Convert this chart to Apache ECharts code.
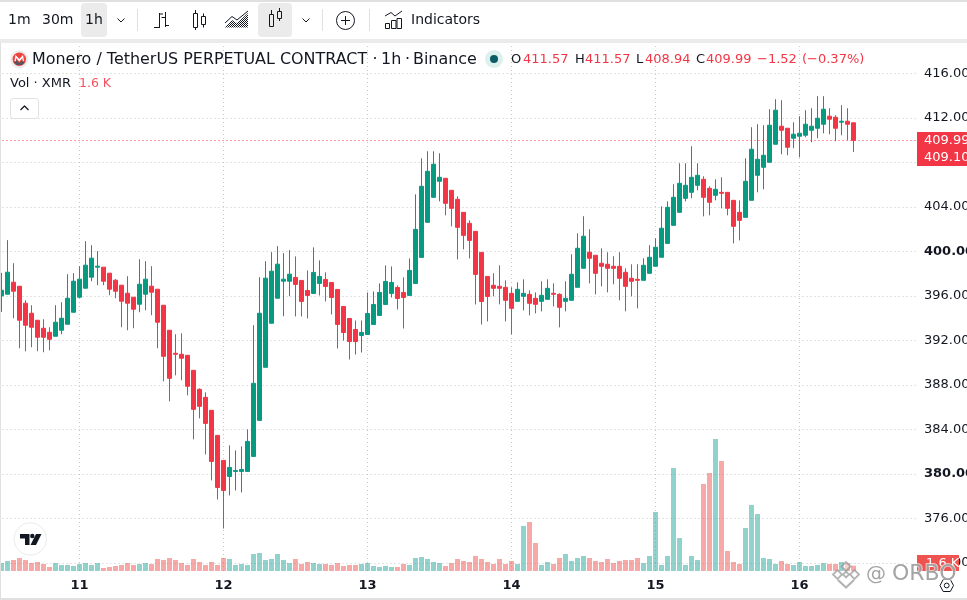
<!DOCTYPE html>
<html>
<head>
<meta charset="utf-8">
<style>html,body{margin:0;padding:0;background:#fff;overflow:hidden}#c{width:967px;height:600px}</style>
<script src="https://cdn.jsdelivr.net/npm/echarts@6/dist/echarts.min.js"></script>
</head>
<body>
<div id="c"></div>
<script>
const opens = [396.01,396.16,397.24,396.88,395.35,394.45,393.82,393.10,392.74,392.38,392.92,393.46,394.54,395.89,396.70,397.69,398.59,398.59,398.05,397.42,396.97,396.25,395.89,
395.26,396.16,396.88,396.61,395.17,392.92,390.85,390.76,390.67,389.32,387.61,386.89,385.72,383.47,381.22,379.78,380.23,380.23,380.23,381.58,384.82,389.59,393.55,395.80,397.33,397.33,
397.67,397.40,396.50,396.23,397.13,397.49,397.22,396.59,395.06,393.98,392.99,392.45,392.54,393.44,394.25,395.24,396.23,396.77,396.32,396.05,397.13,399.47,402.62,404.87,406.31,406.58,405.50,404.69,403.52,402.53,401.81,399.92,397.76,
396.96,396.87,396.78,396.24,395.52,395.97,396.15,395.79,395.52,395.70,396.24,396.15,395.52,395.61,396.78,398.49,399.93,399.66,398.94,398.85,398.67,398.67,398.13,397.59,397.50,397.41,398.04,398.67,
399.48,400.73,402.35,403.52,404.78,405.32,405.95,406.49,405.68,405.05,405.32,405.32,404.60,403.52,403.07,404.60,406.85,407.57,408.02,409.64,411.26,411.08,410.18,410.36,410.45,410.90,411.08,411.44,412.16,412.07,411.62,411.71,411.57];
const closes = [396.52,398.14,396.43,393.82,393.37,393.19,392.29,392.29,392.11,393.64,394.00,395.80,397.33,397.51,398.77,399.40,398.68,397.33,396.61,396.43,395.53,395.35,394.81,
397.06,397.51,396.34,393.64,390.58,388.60,390.76,390.40,387.88,385.81,386.08,384.55,381.13,378.79,378.52,380.59,380.32,380.41,382.93,388.15,394.45,397.60,398.23,398.86,397.51,397.96,
397.04,395.51,396.05,398.12,397.76,396.86,395.87,393.44,392.72,391.91,391.91,392.72,394.43,395.24,396.32,397.31,397.22,395.78,395.87,398.30,401.99,405.86,407.21,407.84,406.67,404.33,403.88,402.17,401.45,401.00,397.94,395.51,395.96,
396.69,396.69,395.61,394.89,396.60,396.24,395.34,395.25,396.06,396.69,396.15,394.98,395.79,397.95,400.29,401.37,399.39,398.04,398.67,398.49,398.49,397.59,396.87,397.32,397.41,398.76,399.48,400.38,
402.09,403.97,404.87,406.13,405.95,406.67,406.85,404.87,404.42,405.59,405.23,403.88,402.26,402.80,406.31,409.19,408.29,408.65,411.35,412.70,410.90,409.37,410.54,410.63,411.44,411.26,411.98,412.79,411.89,411.08,411.71,411.44,409.99];
const highs = [398.08,401.02,398.95,396.88,395.62,395.17,393.82,393.91,393.19,395.17,395.44,397.96,398.05,398.68,400.93,400.57,400.03,398.59,398.05,397.51,396.97,397.78,395.89,
399.31,399.13,398.68,396.61,395.17,392.92,392.56,392.65,390.67,389.32,387.70,387.34,385.72,383.47,381.22,382.57,382.12,382.48,384.01,393.37,397.69,399.13,399.94,400.48,399.85,400.12,
399.56,397.40,398.30,400.37,399.20,398.12,397.22,396.59,395.06,393.98,393.80,393.80,396.32,396.41,397.13,398.75,398.66,396.95,397.67,399.38,405.14,408.38,409.01,409.01,408.83,406.58,405.50,404.96,403.52,402.80,401.81,399.92,397.76,
398.04,398.76,397.41,396.78,397.23,397.50,396.51,396.33,397.32,397.50,397.14,396.24,397.32,399.75,401.64,403.17,402.00,399.66,400.29,399.93,399.57,399.93,398.49,398.85,398.85,399.39,400.56,401.19,
404.06,404.51,406.04,407.93,407.93,409.46,407.93,406.76,405.86,406.49,406.67,405.32,404.60,404.60,408.38,411.17,411.44,411.35,412.79,413.69,413.60,411.08,411.62,412.16,412.70,412.88,413.96,413.96,412.88,412.25,413.15,412.88,411.57];
const lows = [394.57,396.16,394.00,391.30,391.03,391.39,391.03,390.94,391.12,392.38,392.56,393.46,394.54,395.80,396.70,397.33,396.97,396.97,396.07,395.80,393.19,392.92,393.10,
394.54,394.72,394.27,391.30,388.33,386.53,388.87,388.42,387.07,383.11,385.00,381.76,379.42,377.71,375.10,378.07,378.52,378.34,380.23,381.58,384.82,389.59,393.55,395.80,394.18,395.98,
394.16,394.16,393.98,396.23,396.05,395.51,394.34,391.28,392.00,390.29,390.74,390.92,392.54,393.44,394.25,395.24,395.87,394.79,393.08,396.05,397.13,399.47,402.62,404.87,404.51,403.25,402.26,399.29,400.19,399.38,395.24,393.44,393.71,
395.97,395.25,393.72,392.55,395.52,394.71,394.26,394.44,394.62,395.70,395.07,393.18,394.62,395.61,396.78,398.49,397.14,396.15,396.87,396.33,397.05,395.61,394.62,395.97,394.89,397.41,398.04,398.67,
399.48,400.73,402.35,403.52,404.51,404.78,405.50,403.16,403.25,404.60,403.88,403.25,400.73,401.00,403.07,404.60,405.32,405.59,408.02,409.64,408.74,408.65,409.28,408.47,410.27,409.82,410.18,410.63,410.54,409.91,410.45,410.00,408.94];
// volume in thousands of XMR
const volumes = [2.4,3.0,3.3,3.9,3.3,2.4,2.7,2.1,1.2,2.4,1.8,1.8,1.5,2.1,2.4,1.8,2.4,0.9,1.2,1.5,1.8,2.4,1.8,2.1,2.4,2.1,3.6,3.3,3.9,3.3,2.4,1.8,3.6,2.7,1.8,2.7,1.8,3.9,3.6,1.8,2.1,1.8,5.1,5.4,3.3,3.6,5.1,3.3,2.4,3.6,2.1,2.7,2.4,2.1,2.1,
1.8,2.4,1.5,1.8,1.8,2.1,2.4,1.5,1.2,1.5,1.2,1.2,2.1,1.8,3.9,4.2,3.6,2.7,2.4,1.5,2.4,3.6,3.0,2.7,4.5,3.6,2.7,2.1,3.6,2.1,3.0,2.1,13.5,14.7,8.4,1.8,2.7,2.1,3.9,5.1,3.0,3.9,4.5,3.9,3.0,2.7,3.6,2.4,3.0,3.3,3.3,3.9,2.4,4.5,17.7,
1.8,4.5,30.9,9.9,1.8,4.5,3.3,26.1,29.4,39.6,33.0,6.0,2.7,2.1,12.9,19.8,17.1,3.9,3.6,2.1,3.0,2.1,1.8,2.7,1.5,1.5,1.8,2.4,2.1,2.1,2.7,2.4,1.6];
const priceTicks = {min:372, max:416, interval:4};
const boldPrices = [400, 380];
const slotCount = 153;
const categories = [];
for (let i = 0, day = 10, hour = 11; i < slotCount; i++) {
  categories.push(day + ' ' + String(hour).padStart(2,'0') + ':00');
  hour++; if (hour === 24) { hour = 0; day++; }
}
const dayStarts = categories.map((c,i)=>c.endsWith(' 00:00')?i:-1).filter(i=>i>=0);
const lastPrice = 409.99, markPrice = 409.10;

const UP='#089981', DOWN='#f23645', INK='#131722', FONT='"DejaVu Sans"';
const candleData = opens.map((o,i)=>[o,closes[i],lows[i],highs[i]]);
const volData = volumes.map((v,i)=>({value:v,itemStyle:{color:closes[i]>=opens[i]?'rgba(38,166,154,0.5)':'rgba(239,83,80,0.5)'}}));

// graphic helpers (chrome of the page, not data)
const g=[];
const Z=50;
const txt=(t,x,y,o={})=>g.push({type:'text',z:o.z||Z,x,y,silent:true,style:{text:t,fill:o.c||INK,font:(o.w||'normal')+' '+(o.s||14)+'px '+FONT,verticalAlign:'middle',align:o.a||'left',opacity:o.o==null?1:o.o,stroke:o.st||null,lineWidth:o.lw||0}});
const rect=(x,y,w,h,fill,o={})=>g.push({type:'rect',z:o.z||Z,silent:true,shape:{x,y,width:w,height:h,r:o.r||0},style:{fill,stroke:o.st||null,lineWidth:o.lw||1,opacity:o.o==null?1:o.o}});
const poly=(pts,o={})=>g.push({type:'polyline',z:o.z||Z,silent:true,shape:{points:pts},style:{stroke:o.st||INK,lineWidth:o.lw||1,fill:null,opacity:o.o==null?1:o.o,lineJoin:'round'}});
const pgon=(pts,fill,o={})=>g.push({type:'polygon',z:o.z||Z,silent:true,shape:{points:pts},style:{fill,stroke:o.st||null,lineWidth:o.lw||1,opacity:o.o==null?1:o.o}});
const circ=(cx,cy,r,fill,o={})=>g.push({type:'circle',z:o.z||Z,silent:true,shape:{cx,cy,r},style:{fill,stroke:o.st||null,lineWidth:o.lw||1,opacity:o.o==null?1:o.o}});

// page frame
rect(0,0,967,2,'#e0e0e0');
rect(0,39,967,4,'#ebebeb');
rect(0,43,1,556,'#e0e0e0');
rect(0,598,967,2,'#e0e0e0');
// toolbar
rect(81,3,26,34,'#ebebeb',{r:4});
rect(258,3,34,34,'#ebebeb',{r:4});
txt('1m',8,20); txt('30m',42,20); txt('1h',85,20);
poly([[117.5,18.5],[121,22],[124.5,18.5]],{lw:1});
poly([[302.5,18.5],[306,22],[309.5,18.5]],{lw:1});
[137.5,322.5,369.5].forEach(x=>rect(x-0.5,9,1,22,'#e0e0e0'));
// bar icon
poly([[159.5,13],[159.5,28]]); poly([[154,27.5],[159.5,27.5]]); poly([[159.5,14],[163,14]]);
poly([[165.5,12],[165.5,27]]); poly([[161.5,17.5],[165.5,17.5]]); poly([[165.5,25.5],[169,25.5]]);
// candle icon
poly([[195.5,10],[195.5,30]]); rect(193.5,13.5,4,14,'#fff',{st:INK});
poly([[203.5,13.5],[203.5,27.5]]); rect(201.5,16.5,4,8,'#fff',{st:INK});
// area icon
const pat=document.createElement('canvas');pat.width=2;pat.height=2;
{const c=pat.getContext('2d');c.fillStyle='#131722';c.fillRect(0,0,1,1);c.fillRect(1,1,1,1);}
pgon([[225,27.5],[232,20],[237,23],[248,13],[248,27.5]],{image:pat,repeat:'repeat'});
poly([[225,23],[232,16.5],[237,20],[248,11]]);
// selected candle icon
poly([[271.5,10],[271.5,27]]); rect(269.5,14.5,4,12,'#ebebeb',{st:INK});
poly([[279.5,8],[279.5,21]]); rect(277.5,11.5,4,7,'#ebebeb',{st:INK});
// plus
circ(345.5,20.5,9,'#fff',{st:INK});
poly([[341,20.5],[350,20.5]]); poly([[345.5,16],[345.5,25]]);
// indicators
rect(385.5,23.5,4,5,'#fff',{st:INK}); rect(391.5,20.5,4.5,8,'#fff',{st:INK}); rect(397,18.5,4.5,10,'#fff',{st:INK});
poly([[385,16],[391,12.5],[395,16],[402,11]]);
txt('Indicators',411,20);

// legend
circ(19.3,59.3,9,'#ebebeb'); circ(19.3,59.3,6.7,'#f0433f');
pgon([[14.5,61],[15.5,55],[19.3,59],[23,55],[24,61],[22.5,61],[22.5,58],[19.3,61.5],[16,58],[16,61]],'#fff');
pgon([[13.5,62],[16,62],[16,60],[19.3,63],[22.5,60],[22.5,62],[25,62],[22,65],[16.5,65]],'#55555d');
txt('Monero / TetherUS PERPETUAL CONTRACT',32,59.5,{s:15.95});
txt('·',372.5,59.5,{s:15.95}); txt('1h',381,59.5,{s:15.95}); txt('·',405,59.5,{s:15.95}); txt('Binance',413,59.5,{s:15.95});
circ(494,59,9,'#dcf1ee'); circ(494,59,4,'#0a5c66');
const oh=[['O',511,INK],['411.57',523,DOWN],['H',575,INK],['411.57',585,DOWN],['L',636,INK],['408.94',645,DOWN],['C',696,INK],['409.99',706,DOWN],['−1.52',757,DOWN],['(−0.37%)',802,DOWN]];
oh.forEach(a=>txt(a[0],a[1],59.5,{s:13,c:a[2]}));
txt('Vol · XMR',10,83.5,{s:13}); txt('1.6 K',79,83.5,{s:12.5,c:'#f7525f'});
rect(10.5,98.5,28,20,'#fff',{st:'#e0e0e0',r:3});
poly([[20.5,110],[24.5,106],[28.5,110]],{lw:1.2});
// TV logo
circ(30.3,539,16.3,'#fff',{st:'#ebebeb'});
pgon([[20,534],[29.5,534],[29.5,545],[25,545],[25,538.5],[20,538.5]],'#131722');
circ(32.3,536,2.2,'#131722');
pgon([[36,534],[41.5,534],[36,545],[30.5,545]],'#131722');
// price boxes
rect(917,132,50,34,DOWN,{z:60});
txt('409.99',924,141,{s:13,c:'#fff',z:61});
txt('409.10',924,157.5,{s:13,c:'#fff',z:61});
rect(917,555,42,16,'#ef5350',{z:60});
txt('1.6 K',926,563.5,{s:13,c:'#fff',z:61});
// settings hexagon
pgon([[940,585.5],[943.2,579.5],[950.3,579.5],[953.5,585.5],[950.3,591.5],[943.2,591.5]],'#fff',{st:INK,lw:1,z:62});
circ(946.7,585.5,2.4,'#fff',{st:INK,z:62});
// watermark
const wgrey='#9a9a9a';
const WL={z:70,o:0.75};
[[846,566.5],[846,574.5],[837.5,574.5],[854.5,574.5]].forEach(p=>{
  const r=p[0]===846&&p[1]>570?3:4.5;
  pgon([[p[0],p[1]-r],[p[0]+r,p[1]],[p[0],p[1]+r],[p[0]-r,p[1]]],'rgba(255,255,255,0.6)',{st:wgrey,lw:1.8,...WL});
});
poly([[838,580],[846,587.5],[854,580]],{st:wgrey,lw:2.2,...WL});
txt('@',866,574.5,{s:20,c:wgrey,z:70,o:0.9,st:'rgba(255,255,255,0.7)',lw:2});
txt('ORBO',892,574.5,{s:22,c:wgrey,z:70,o:0.9,st:'rgba(255,255,255,0.7)',lw:2});

const GRIDC='#c6c6c6';
const chart=echarts.init(document.getElementById('c'),null,{renderer:'canvas'});
chart.setOption({
  animation:false,
  backgroundColor:'#fff',
  textStyle:{fontFamily:FONT},
  tooltip:{show:false},
  grid:[
    {left:-1.5,width:918,top:42,height:529,outerBoundsMode:'none'},
    {left:-1.5,width:918,top:73.5,height:489.5,outerBoundsMode:'none'}
  ],
  xAxis:[
    {type:'category',gridIndex:0,data:categories,boundaryGap:true,
     axisLine:{show:false},axisTick:{show:false},splitLine:{show:false},
     axisLabel:{show:true,margin:8,fontSize:13,fontWeight:'bold',color:INK,fontFamily:FONT,
       interval:(i,v)=>v.endsWith(' 00:00'),formatter:v=>v.split(' ')[0]}},
    {type:'category',gridIndex:1,data:categories,boundaryGap:true,show:false}
  ],
  yAxis:[
    {type:'value',gridIndex:0,min:0,max:158.7,show:false,splitLine:{show:false}},
    {type:'value',gridIndex:1,position:'right',min:priceTicks.min,max:priceTicks.max,interval:priceTicks.interval,
     axisLine:{show:false},axisTick:{show:false},
     splitLine:{show:true,lineStyle:{color:GRIDC,type:[1,3],width:1}},
     axisLabel:{margin:7.5,fontSize:13,color:INK,fontFamily:FONT,
       formatter:v=>boldPrices.includes(v)?'{b|'+v.toFixed(2)+'}':v.toFixed(2),
       rich:{b:{fontWeight:'bold',fontSize:13,color:INK,fontFamily:FONT}}}}
  ],
  series:[
    {type:'bar',name:'Vol',xAxisIndex:0,yAxisIndex:0,data:volData,barWidth:5,z:2,silent:true,
     markLine:{z:1,silent:true,symbol:'none',animation:false,label:{show:false},
       lineStyle:{color:GRIDC,type:[1,3],width:1},
       data:dayStarts.map(i=>({xAxis:i}))}},
    {type:'candlestick',name:'XMRUSDT',xAxisIndex:1,yAxisIndex:1,data:candleData,barWidth:4,z:3,silent:true,
     itemStyle:{color:UP,color0:DOWN,borderColor:UP,borderColor0:DOWN,borderWidth:1},
     markLine:{z:2,silent:true,symbol:'none',animation:false,label:{show:false},
       lineStyle:{color:DOWN,type:[1,3],width:1},
       data:[{yAxis:lastPrice}]}}
  ],
  graphic:{elements:g}
});
</script>
</body>
</html>
